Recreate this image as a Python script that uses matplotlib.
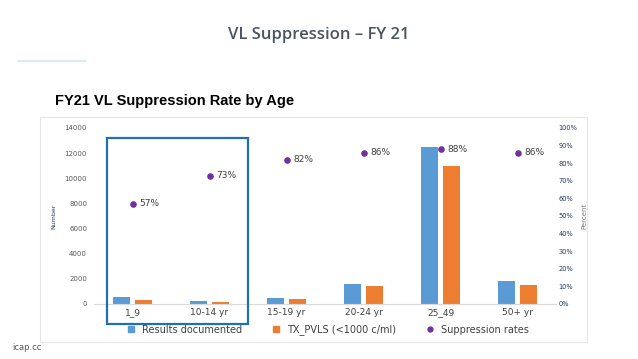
import matplotlib
matplotlib.use("Agg")
import matplotlib.pyplot as plt
from matplotlib.patches import Rectangle
from matplotlib.lines import Line2D
import numpy as np

categories = ["1_9", "10-14 yr", "15-19 yr", "20-24 yr", "25_49", "50+ yr"]
results_documented = [560, 250, 450, 1600, 12500, 1800]
tx_pvls = [330, 180, 380, 1400, 11000, 1550]
suppression_rates = [57, 73, 82, 86, 88, 86]
left_ticks = [0, 2000, 4000, 6000, 8000, 10000, 12000, 14000]
right_ticks = [0, 10, 20, 30, 40, 50, 60, 70, 80, 90, 100]

BLUE = "#5B9BD5"
ORANGE = "#ED7D31"
PURPLE = "#7030A0"
NAVY = "#1F3864"

fig = plt.figure(figsize=(6.38, 3.59), dpi=100)
fig.patch.set_facecolor("white")

# Slide title
fig.text(0.5, 0.902, "VL Suppression \u2013 FY 21", ha="center", va="center",
         fontsize=12, color="#4A5560", family="Open Sans", fontweight="semibold")
fig.add_artist(Line2D([18/638, 85/638], [1-61/359, 1-61/359], color="#DCEBF2", lw=1.5))
fig.text(55/638, 1-101/359, "FY21 VL Suppression Rate by Age", ha="left", va="center",
         fontsize=10.5, fontweight="bold", color="black", family="Liberation Sans")
fig.text(12/638, 1-347/359, "icap.cc", ha="left", va="center", fontsize=6, color="#555555")

# chart frame
fig.add_artist(Rectangle((40/638, 1-342/359), 547/638, 225/359, transform=fig.transFigure,
                         fill=False, ec="#E6E6E6", lw=0.8))

ax = fig.add_axes([94/638, 1-304/359, 462/638, 176/359])
ax2 = ax.twinx()

x = np.arange(len(categories))
w = 0.22
ax.bar(x - 0.14, results_documented, w, color=BLUE, zorder=2)
ax.bar(x + 0.14, tx_pvls, w, color=ORANGE, zorder=2)
ax.set_xlim(-0.5, len(categories) - 0.5)
ax.set_ylim(0, 14000)
ax.set_yticks(left_ticks)
ax.set_yticklabels([str(t) for t in left_ticks], fontsize=5, color="#595959")
ax.set_xticks(x)
ax.set_xticklabels(categories, fontsize=6.5, color="#404040")
ax.tick_params(axis="x", length=0, pad=3)
ax.tick_params(axis="y", length=0, pad=5)
for s in ["top", "right", "left"]:
    ax.spines[s].set_visible(False)
ax.spines["bottom"].set_color("#D9D9D9")
ax.set_ylabel("Number", fontsize=4.5, color=NAVY, labelpad=6)

ax2.scatter(x, suppression_rates, s=14, color=PURPLE, zorder=3)
for xi, v in zip(x, suppression_rates):
    ax2.annotate(f"{v}%", (xi, v), xytext=(5, 0), textcoords="offset points",
                 ha="left", va="center", fontsize=6.5, color="#404040")
ax2.set_ylim(0, 100)
ax2.set_yticks(right_ticks)
ax2.set_yticklabels([f"{t}%" for t in right_ticks], fontsize=4.8, color=NAVY)
ax2.tick_params(axis="y", length=0, pad=2)
for s in ["top", "right", "left", "bottom"]:
    ax2.spines[s].set_visible(False)
ax2.set_ylabel("Percent", fontsize=5, color="#7F7F7F", labelpad=3)

# highlight box
fig.add_artist(Rectangle((107/638, 1-324/359), 141/638, 186/359, transform=fig.transFigure,
                         fill=False, ec="#1F6FB2", lw=1.6, zorder=10))

handles = [
    Line2D([], [], marker="s", ls="", color=BLUE, markersize=5),
    Line2D([], [], marker="s", ls="", color=ORANGE, markersize=5),
    Line2D([], [], marker="o", ls="", color=PURPLE, markersize=3.5),
]
fig.legend(handles, ["Results documented", "TX_PVLS (<1000 c/ml)", "Suppression rates"],
           loc="center", bbox_to_anchor=(325/638, 1-330/359), ncol=3, frameon=False,
           fontsize=7, handletextpad=0.1, columnspacing=2.5, labelcolor="#404040",
           borderpad=0.1)

fig.savefig("out.png", dpi=100)
